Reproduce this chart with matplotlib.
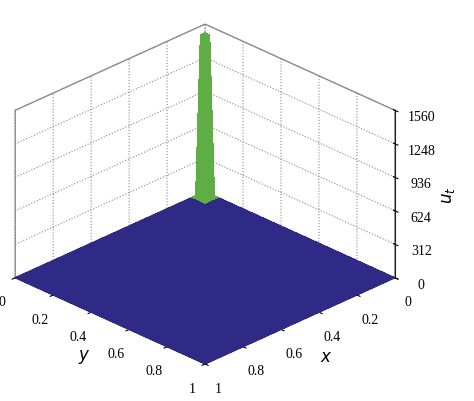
import numpy as np
import matplotlib
matplotlib.use('Agg')
import matplotlib.pyplot as plt

# grid and values: flat floor, one spike at the origin
n_grid = 41
spike_cells = 2
spike_height = 1480.0
floor_height = 0.0
z_ticks = [0, 312, 624, 936, 1248, 1560]
xy_ticks = [0, 0.2, 0.4, 0.6, 0.8, 1]
xy_labels = ['0', '0.2', '0.4', '0.6', '0.8', '1']

x = np.linspace(0, 1, n_grid)
y = np.linspace(0, 1, n_grid)
X, Y = np.meshgrid(x, y)
Z = np.full(X.shape, floor_height)
Z[:spike_cells, :spike_cells] = spike_height

navy = '#2e2a86'
green = '#5fae45'
fc = np.empty(X.shape + (4,))
fc[:] = matplotlib.colors.to_rgba(navy)
fc[:spike_cells + 1, :spike_cells + 1] = matplotlib.colors.to_rgba(green)

fig = plt.figure(figsize=(4.74, 4.02), dpi=100)
ax = fig.add_axes([-0.13, -0.05, 1.1, 1.1], projection='3d')
ax.set_proj_type('ortho')
ax.plot_surface(X, Y, Z, facecolors=fc, shade=False, linewidth=0,
                antialiased=False, rstride=1, cstride=1)
ax.view_init(elev=27, azim=45)
ax.set_box_aspect((1, 1, 0.7), zoom=0.93)
ax.set_xlim(0, 1)
ax.set_ylim(0, 1)
ax.set_zlim(0, 1560)
ax.set_xticks(xy_ticks)
ax.set_xticklabels(xy_labels, fontsize=10, family='Liberation Serif')
ax.set_yticks(xy_ticks)
ax.set_yticklabels(xy_labels, fontsize=10, family='Liberation Serif')
ax.set_zticks(z_ticks)
ax.set_zticklabels([str(t) for t in z_ticks], fontsize=10, family='Liberation Serif')
ax.zaxis.set_ticks_position('upper')
ax.zaxis.set_label_position('upper')
ax.set_xlabel('$x$', fontsize=12, labelpad=2)
ax.set_ylabel('$y$', fontsize=12, labelpad=2)
ax.set_zlabel('$u_t$', fontsize=12, labelpad=2)
for a in (ax.xaxis, ax.yaxis, ax.zaxis):
    a.pane.fill = False
    a.pane.set_edgecolor('#222222')
    a.line.set_color('#222222')
    a._axinfo['grid'].update(color='#888888', linestyle=':', linewidth=0.8)

fig.savefig('out.png', dpi=100)
